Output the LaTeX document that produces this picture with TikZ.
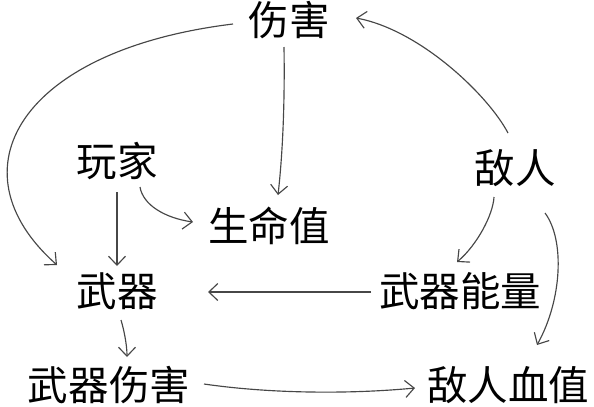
\documentclass[tikz,border=0pt]{standalone}
\usepackage{fontspec}
\setmainfont{Noto Sans CJK SC}
\usetikzlibrary{arrows.meta}
\begin{document}
\begin{tikzpicture}[x=1bp,y=-1bp,
  lbl/.style={inner sep=0pt,text height=33.5bp,text depth=2.8bp,font=\fontsize{40.5bp}{46bp}\selectfont},
  edge/.style={draw=black!72,line width=1.15bp,-{Straight Barb[length=9bp,width=17bp]}}]
\useasboundingbox (0,0) rectangle (594,406);
\node[lbl] (sh)   at (289,20)  {伤害};
\node[lbl] (wj)   at (117,161) {玩家};
\node[lbl] (dr)   at (515,168) {敌人};
\node[lbl] (smz)  at (269,226) {生命值};
\node[lbl] (wq)   at (117,291) {武器};
\node[lbl] (wqnl) at (460,291) {武器能量};
\node[lbl] (wqsh) at (109,385) {武器伤害};
\node[lbl] (drxz) at (508,385) {敌人血值};
% 伤害 -> 武器
\draw[edge] ([shift={(-56,4)}]sh.center) .. controls (20,50) and (-50,170) .. ([shift={(-60,-26)}]wq.center);
% 伤害 -> 生命值
\draw[edge] ([shift={(-5,27)}]sh.center) .. controls (285,110) and (282,160) .. ([shift={(9,-31)}]smz.center);
% 敌人 -> 伤害
\draw[edge] ([shift={(-7,-35)}]dr.center) .. controls (488,95) and (420,30) .. ([shift={(67,-2)}]sh.center);
% 玩家 -> 武器
\draw[edge] ([shift={(0,31)}]wj.center) -- ([shift={(0,-25)}]wq.center);
% 玩家 -> 生命值
\draw[edge] ([shift={(23,26)}]wj.center) .. controls (143,205) and (165,218) .. ([shift={(-76,-4)}]smz.center);
% 敌人 -> 武器能量
\draw[edge] ([shift={(-21,29)}]dr.center) .. controls (493,215) and (477,245) .. ([shift={(-3,-29)}]wqnl.center);
% 敌人 -> 敌人血值
\draw[edge] ([shift={(30,45)}]dr.center) .. controls (565,240) and (562,300) .. ([shift={(29,-40)}]drxz.center);
% 武器能量 -> 武器
\draw[edge] ([shift={(-89,1)}]wqnl.center) -- ([shift={(91,1)}]wq.center);
% 武器 -> 武器伤害
\draw[edge] ([shift={(4,29)}]wq.center) .. controls (124,330) and (127,345) .. ([shift={(18,-28)}]wqsh.center);
% 武器伤害 -> 敌人血值
\draw[edge] ([shift={(95,-1)}]wqsh.center) .. controls (273,394) and (352,394) .. ([shift={(-93,3)}]drxz.center);
\end{tikzpicture}
\end{document}
